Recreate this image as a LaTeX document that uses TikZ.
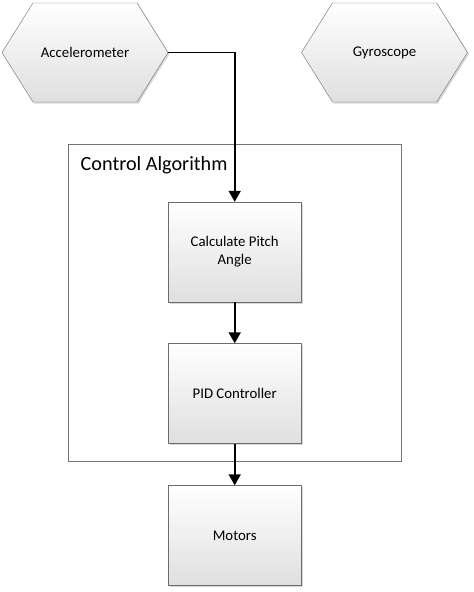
\documentclass[tikz,border=0pt]{standalone}
\usepackage{fontspec}
\setmainfont{Carlito}
\usetikzlibrary{shapes.symbols,shadows,arrows.meta}

\begin{document}
\begin{tikzpicture}
[x=1pt,y=-1pt,
  sensorDecorate/.style={shape=signal,signal to=west and east,signal pointer angle=116,%
    minimum width=166pt,minimum height=99pt,inner sep=0pt,draw=gray!85!black,%
    top color=white,bottom color=gray!25,%
    drop shadow={shadow xshift=1.5pt,shadow yshift=-1.5pt,fill=gray!60},%
    font=\fontsize{14.8}{18}\selectfont},
  boxDecorate/.style={shape=rectangle,minimum width=133pt,minimum height=100pt,%
    inner sep=0pt,align=center,draw=gray!85!black,top color=white,bottom color=gray!25,%
    drop shadow={shadow xshift=1.5pt,shadow yshift=-1.5pt,fill=gray!60},%
    font=\fontsize{14.8}{18}\selectfont},
  lineDecorate/.style={-{Triangle[length=11pt,width=12pt]},line width=1.8pt}]
\useasboundingbox (0,0) rectangle (474,592);
%% container
\node (ctrl) at (234.5,302.5) [draw=gray!90!black,line width=0.8pt,minimum width=333pt,minimum height=317pt] {};
\node (ctrllabel) at (80.5,170) [anchor=base west,inner sep=0pt,font=\fontsize{20.2}{24}\selectfont] {Control Algorithm};
%% sensors
\foreach \nodename/\x/\y/\txt in {
  acc/85/52.5/Accelerometer, gyro/384.5/52.5/Gyroscope}
{
  \node (\nodename) at (\x,\y) [sensorDecorate] {\txt};
}
%% blocks
\foreach \nodename/\y/\txt in {
  calc/252/{Calculate Pitch\\Angle}, pid/393.5/PID Controller, mot/535.5/Motors}
{
  \node (\nodename) at (234.7,\y) [boxDecorate] {\txt};
}
%% connectors
\draw[lineDecorate] (acc.east) -| (calc.north);
\draw[lineDecorate] (calc) -- (pid);
\draw[lineDecorate] (pid) -- (mot);
\end{tikzpicture}
\end{document}
